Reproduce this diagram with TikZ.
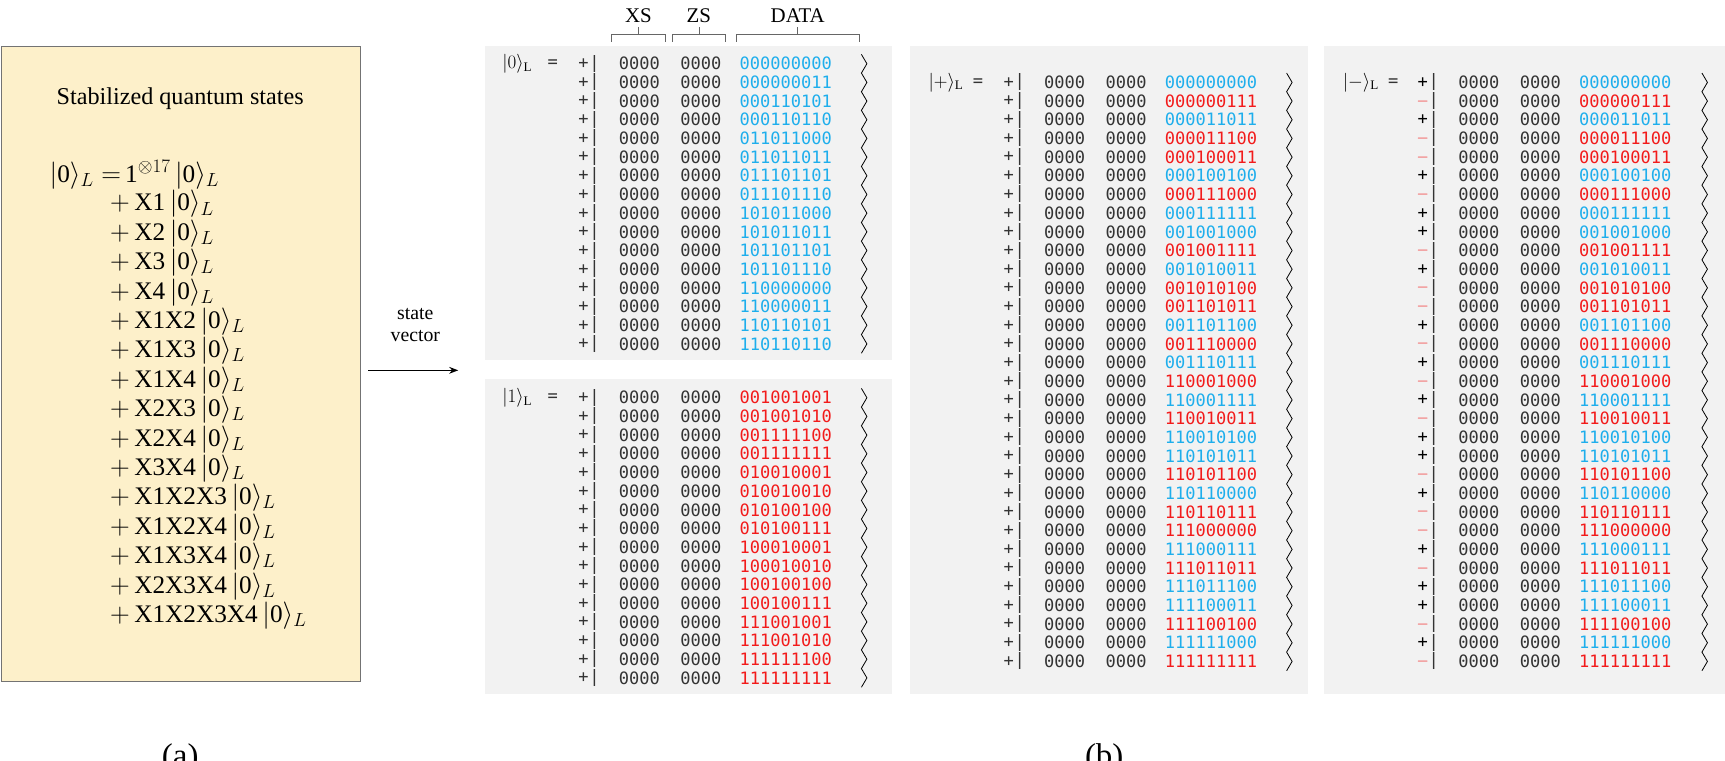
\documentclass[tikz,border=0pt]{standalone}
\usepackage{fontspec}
\usetikzlibrary{arrows.meta}
\setmainfont{Liberation Serif}
\setmonofont{DejaVu Sans Mono}
\definecolor{qb}{HTML}{1EAEEC}
\definecolor{qr}{HTML}{F21B1B}
\definecolor{panelgray}{HTML}{F2F2F2}
\definecolor{boxyellow}{HTML}{FDF0CA}
\colorlet{sgnqb}{black}
\colorlet{sgnqr}{qr}
\expandafter\def\csname sgqb\endcsname{+}
\expandafter\def\csname sgqr\endcsname{$-$}
\tikzstyle{panel}=[fill=panelgray,draw=none]
\tikzstyle{dat}=[font=\fontsize{15.5}{15.5}\ttfamily,inner sep=0pt,text=black!80]
\tikzstyle{datw}=[dat,anchor=west]
\tikzstyle{ket}=[font=\fontsize{17}{17}\selectfont,inner sep=0pt,anchor=west]
\tikzstyle{eqline}=[font=\fontsize{23}{23}\selectfont,inner sep=0pt,anchor=west]
\tikzstyle{brk}=[draw=black!60,thin]

\begin{document}
\begin{tikzpicture}[x=1pt,y=-1pt,scale=1.0987,every node/.append style={scale=1.0987}]
    \useasboundingbox (0,0) rectangle (1570,692.6);

    % (a) stabilizer list
    \draw[fill=boxyellow,draw=black!55] (1,42) rectangle (328,620);
    \node (title) at (164,90) [font=\fontsize{22}{22}\selectfont] {Stabilized quantum states};
    \node (eq0) at (45,159) [eqline] {$|$0$\rangle_{L}=$\,1$^{\otimes 17}\,|$0$\rangle_{L}$};
    \foreach \op [count=\i] in {X1,X2,X3,X4,X1X2,X1X3,X1X4,X2X3,X2X4,X3X4,
        X1X2X3,X1X2X4,X1X3X4,X2X3X4,X1X2X3X4}
        \node (eq\i) at (100,159+26.75*\i) [eqline] {$+\,$\op$\,|$0$\rangle_{L}$};
    \node (capa) at (164,690) [font=\fontsize{30}{30}\selectfont] {(a)};

    % arrow
    \coordinate (arrs) at (335,337);
    \coordinate (arre) at (417,337);
    \draw[-{Stealth[length=9pt]},line width=1.6pt] (arrs) -- (arre);
    \node (sv) at (378,296) [font=\fontsize{18}{20}\selectfont,align=center] {state\\vector};

    % panels
    \fill[panel] (441,42) rectangle (812,328);
    \fill[panel] (441,345) rectangle (812,632);
    \fill[panel] (828,42) rectangle (1190,632);
    \fill[panel] (1205,42) rectangle (1570,632);

    % column headers
    \node (XS) at (581,14) [font=\fontsize{19}{19}\selectfont] {XS};
    \node (ZS) at (636,14) [font=\fontsize{19}{19}\selectfont] {ZS};
    \node (DATA) at (726,14) [font=\fontsize{19}{19}\selectfont] {DATA};
    \draw[brk] (556,38) -- (556,31) -- (605,31) -- (605,38) (581,31) -- (581,25);
    \draw[brk] (612,38) -- (612,31) -- (660,31) -- (660,38) (636,31) -- (636,25);
    \draw[brk] (670,38) -- (670,31) -- (782,31) -- (782,38) (726,31) -- (726,25);

    % |0>_L
    \node (k0) at (457,58) [ket] {$|0\rangle_{\mathrm{L}}$};
    \node (e0) at (503,58) [dat] {=};
    \foreach \v [count=\i from 0] in {000000000,000000011,000110101,000110110,
        011011000,011011011,011101101,011101110,101011000,101011011,
        101101101,101101110,110000000,110000011,110110101,110110110} {
        \node (s0\i) at (531,58+17*\i) [dat] {+};
        \node (b0\i) at (541,58+17*\i) [dat] {|};
        \node (x0\i) at (582,58+17*\i) [dat] {0000};
        \node (z0\i) at (638,58+17*\i) [dat] {0000};
        \node (d0\i) at (673,58+17*\i) [datw,text=qb] {\v};
    }
    \draw[thick] (784,49.5) \foreach \i in {1,...,16} { -- ++(5,8.5) -- ++(-5,8.5) };

    % |1>_L
    \node (k1) at (457,362) [ket] {$|1\rangle_{\mathrm{L}}$};
    \node (e1) at (503,362) [dat] {=};
    \foreach \v [count=\i from 0] in {001001001,001001010,001111100,001111111,
        010010001,010010010,010100100,010100111,100010001,100010010,
        100100100,100100111,111001001,111001010,111111100,111111111} {
        \node (s1\i) at (531,362+17*\i) [dat] {+};
        \node (b1\i) at (541,362+17*\i) [dat] {|};
        \node (x1\i) at (582,362+17*\i) [dat] {0000};
        \node (z1\i) at (638,362+17*\i) [dat] {0000};
        \node (d1\i) at (673,362+17*\i) [datw,text=qr] {\v};
    }
    \draw[thick] (784,353.5) \foreach \i in {1,...,16} { -- ++(5,8.5) -- ++(-5,8.5) };

    % |+>_L and |->_L
    \node (kp) at (845,75) [ket] {$|{+}\rangle_{\mathrm{L}}$};
    \node (ep) at (890,75) [dat] {=};
    \node (km) at (1222,75) [ket] {$|{-}\rangle_{\mathrm{L}}$};
    \node (em) at (1268,75) [dat] {=};
    \foreach \v/\c [count=\i from 0] in {000000000/qb,000000111/qr,000011011/qb,000011100/qr,
        000100011/qr,000100100/qb,000111000/qr,000111111/qb,001001000/qb,001001111/qr,
        001010011/qb,001010100/qr,001101011/qr,001101100/qb,001110000/qr,001110111/qb,
        110001000/qr,110001111/qb,110010011/qr,110010100/qb,110101011/qb,110101100/qr,
        110110000/qb,110110111/qr,111000000/qr,111000111/qb,111011011/qr,111011100/qb,
        111100011/qb,111100100/qr,111111000/qb,111111111/qr} {
        \node (sp\i) at (918,75+17*\i) [dat] {+};
        \node (bp\i) at (928,75+17*\i) [dat] {|};
        \node (xp\i) at (969,75+17*\i) [dat] {0000};
        \node (zp\i) at (1025,75+17*\i) [dat] {0000};
        \node (dp\i) at (1060,75+17*\i) [datw,text=\c] {\v};
        \node (sm\i) at (1295,75+17*\i) [dat,text=sgn\c] {\csname sg\c\endcsname};
        \node (bm\i) at (1305,75+17*\i) [dat] {|};
        \node (xm\i) at (1346,75+17*\i) [dat] {0000};
        \node (zm\i) at (1402,75+17*\i) [dat] {0000};
        \node (dm\i) at (1437,75+17*\i) [datw,text=\c] {\v};
    }
    \draw[thick] (1171,66.5) \foreach \i in {1,...,32} { -- ++(5,8.5) -- ++(-5,8.5) };
    \draw[thick] (1549,66.5) \foreach \i in {1,...,32} { -- ++(5,8.5) -- ++(-5,8.5) };

    \node (capb) at (1005,690) [font=\fontsize{30}{30}\selectfont] {(b)};
\end{tikzpicture}
\end{document}
